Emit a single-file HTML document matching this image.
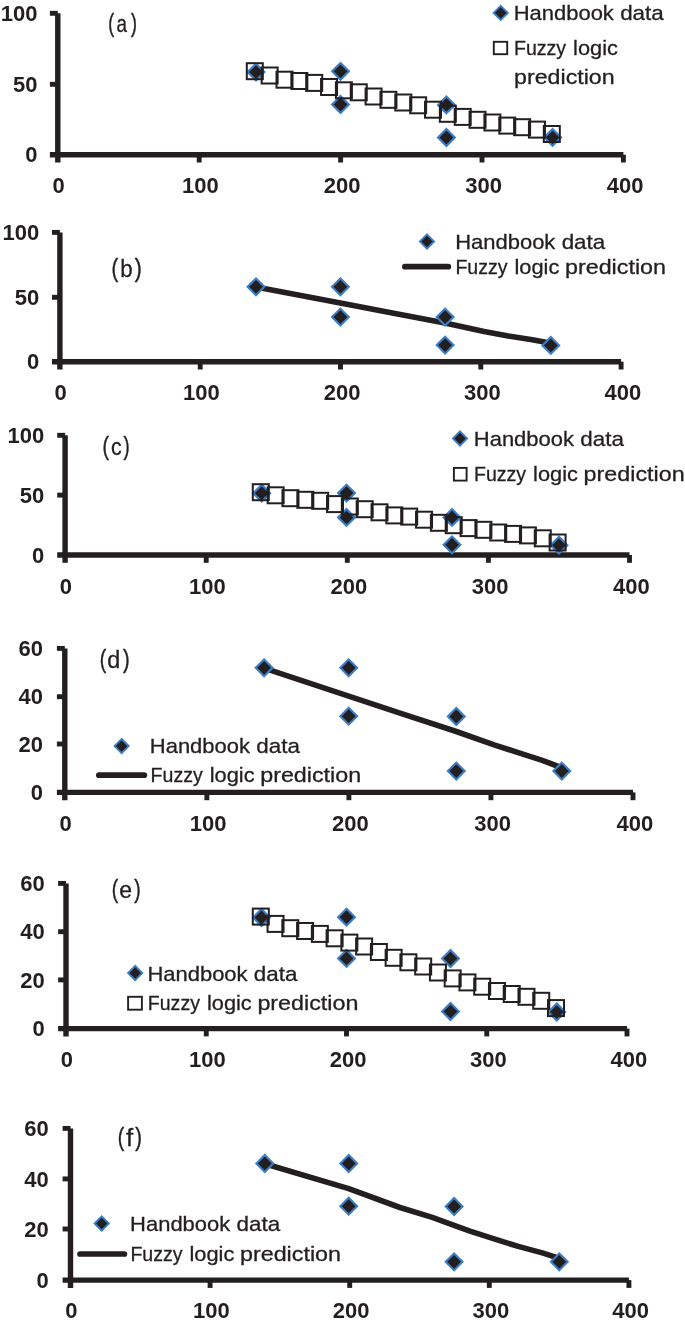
<!DOCTYPE html>
<html lang="en">
<head>
<meta charset="utf-8">
<title>Handbook data vs fuzzy logic prediction</title>
<style>
html,body{margin:0;padding:0;background:#fff;}
body{width:685px;height:1327px;overflow:hidden;}
svg{display:block;}
svg text{font-family:'Liberation Sans', sans-serif;fill:#231f20;}
</style>
</head>
<body>
<svg width="685" height="1327" viewBox="0 0 685 1327">
<rect width="685" height="1327" fill="#ffffff"/>
<line x1="57.80" y1="13.30" x2="57.80" y2="162.50" stroke="#231f20" stroke-width="5.4" stroke-linecap="butt"/>
<line x1="49.90" y1="154.70" x2="623.40" y2="154.70" stroke="#231f20" stroke-width="5.4" stroke-linecap="butt"/>
<line x1="49.90" y1="13.30" x2="57.80" y2="13.30" stroke="#231f20" stroke-width="4.9" stroke-linecap="butt"/>
<text x="0.65" y="21.00" font-size="21.3" font-weight="700" textLength="36.75" lengthAdjust="spacingAndGlyphs">100</text>
<line x1="49.90" y1="84.30" x2="57.80" y2="84.30" stroke="#231f20" stroke-width="4.9" stroke-linecap="butt"/>
<text x="12.90" y="92.00" font-size="21.3" font-weight="700" textLength="24.50" lengthAdjust="spacingAndGlyphs">50</text>
<text x="25.15" y="162.40" font-size="21.3" font-weight="700" textLength="12.25" lengthAdjust="spacingAndGlyphs">0</text>
<text x="52.49" y="193.00" font-size="21.3" font-weight="700" textLength="12.25" lengthAdjust="spacingAndGlyphs">0</text>
<line x1="199.20" y1="154.70" x2="199.20" y2="162.50" stroke="#231f20" stroke-width="4.9" stroke-linecap="butt"/>
<text x="182.08" y="193.00" font-size="21.3" font-weight="700" textLength="36.75" lengthAdjust="spacingAndGlyphs">100</text>
<line x1="340.60" y1="154.70" x2="340.60" y2="162.50" stroke="#231f20" stroke-width="4.9" stroke-linecap="butt"/>
<text x="323.79" y="193.00" font-size="21.3" font-weight="700" textLength="36.75" lengthAdjust="spacingAndGlyphs">200</text>
<line x1="482.00" y1="154.70" x2="482.00" y2="162.50" stroke="#231f20" stroke-width="4.9" stroke-linecap="butt"/>
<text x="465.32" y="193.00" font-size="21.3" font-weight="700" textLength="36.75" lengthAdjust="spacingAndGlyphs">300</text>
<line x1="623.40" y1="154.70" x2="623.40" y2="162.50" stroke="#231f20" stroke-width="4.9" stroke-linecap="butt"/>
<text x="606.81" y="193.00" font-size="21.3" font-weight="700" textLength="36.75" lengthAdjust="spacingAndGlyphs">400</text>
<text x="108.15" y="32.02" font-size="25.0" stroke="#231f20" stroke-width="0.45" textLength="5.90" lengthAdjust="spacingAndGlyphs">(</text>
<text x="116.50" y="31.50" font-size="23.2" stroke="#231f20" stroke-width="0.3" textLength="10.50" lengthAdjust="spacingAndGlyphs">a</text>
<text x="131.05" y="32.02" font-size="25.0" stroke="#231f20" stroke-width="0.45" textLength="5.90" lengthAdjust="spacingAndGlyphs">)</text>
<polygon points="256.00,63.70 264.40,72.10 256.00,80.50 247.60,72.10" fill="#231f20" stroke="#3b7dc6" stroke-width="2.1" stroke-linejoin="miter"/>
<polygon points="340.50,62.90 348.90,71.30 340.50,79.70 332.10,71.30" fill="#231f20" stroke="#3b7dc6" stroke-width="2.1" stroke-linejoin="miter"/>
<polygon points="340.50,96.10 348.90,104.50 340.50,112.90 332.10,104.50" fill="#231f20" stroke="#3b7dc6" stroke-width="2.1" stroke-linejoin="miter"/>
<polygon points="446.40,96.50 454.80,104.90 446.40,113.30 438.00,104.90" fill="#231f20" stroke="#3b7dc6" stroke-width="2.1" stroke-linejoin="miter"/>
<polygon points="446.40,129.10 454.80,137.50 446.40,145.90 438.00,137.50" fill="#231f20" stroke="#3b7dc6" stroke-width="2.1" stroke-linejoin="miter"/>
<polygon points="552.60,129.00 561.00,137.40 552.60,145.80 544.20,137.40" fill="#231f20" stroke="#3b7dc6" stroke-width="2.1" stroke-linejoin="miter"/>
<rect x="246.80" y="63.20" width="16.00" height="16.00" fill="none" stroke="#231f20" stroke-width="2.0"/>
<rect x="261.65" y="67.50" width="16.00" height="16.00" fill="none" stroke="#231f20" stroke-width="2.0"/>
<rect x="276.50" y="71.70" width="16.00" height="16.00" fill="none" stroke="#231f20" stroke-width="2.0"/>
<rect x="291.35" y="73.00" width="16.00" height="16.00" fill="none" stroke="#231f20" stroke-width="2.0"/>
<rect x="306.20" y="74.90" width="16.00" height="16.00" fill="none" stroke="#231f20" stroke-width="2.0"/>
<rect x="321.05" y="79.00" width="16.00" height="16.00" fill="none" stroke="#231f20" stroke-width="2.0"/>
<rect x="335.90" y="82.30" width="16.00" height="16.00" fill="none" stroke="#231f20" stroke-width="2.0"/>
<rect x="350.75" y="84.30" width="16.00" height="16.00" fill="none" stroke="#231f20" stroke-width="2.0"/>
<rect x="365.60" y="88.50" width="16.00" height="16.00" fill="none" stroke="#231f20" stroke-width="2.0"/>
<rect x="380.45" y="91.80" width="16.00" height="16.00" fill="none" stroke="#231f20" stroke-width="2.0"/>
<rect x="395.30" y="94.50" width="16.00" height="16.00" fill="none" stroke="#231f20" stroke-width="2.0"/>
<rect x="410.15" y="97.30" width="16.00" height="16.00" fill="none" stroke="#231f20" stroke-width="2.0"/>
<rect x="425.00" y="101.70" width="16.00" height="16.00" fill="none" stroke="#231f20" stroke-width="2.0"/>
<rect x="439.85" y="105.80" width="16.00" height="16.00" fill="none" stroke="#231f20" stroke-width="2.0"/>
<rect x="454.70" y="108.90" width="16.00" height="16.00" fill="none" stroke="#231f20" stroke-width="2.0"/>
<rect x="469.55" y="111.80" width="16.00" height="16.00" fill="none" stroke="#231f20" stroke-width="2.0"/>
<rect x="484.40" y="114.50" width="16.00" height="16.00" fill="none" stroke="#231f20" stroke-width="2.0"/>
<rect x="499.25" y="117.60" width="16.00" height="16.00" fill="none" stroke="#231f20" stroke-width="2.0"/>
<rect x="514.10" y="119.20" width="16.00" height="16.00" fill="none" stroke="#231f20" stroke-width="2.0"/>
<rect x="528.95" y="121.60" width="16.00" height="16.00" fill="none" stroke="#231f20" stroke-width="2.0"/>
<rect x="543.80" y="126.00" width="16.00" height="16.00" fill="none" stroke="#231f20" stroke-width="2.0"/>
<polygon points="500.70,5.80 507.80,12.90 500.70,20.00 493.60,12.90" fill="#231f20" stroke="#3b7dc6" stroke-width="1.9" stroke-linejoin="miter"/>
<text font-size="20.3" stroke="#231f20" stroke-width="0.3">
<tspan x="513.70" y="19.60" textLength="100.17" lengthAdjust="spacingAndGlyphs">Handbook</tspan>
<tspan x="620.16" y="19.60" textLength="43.64" lengthAdjust="spacingAndGlyphs">data</tspan>
</text>
<rect x="493.80" y="41.80" width="13.40" height="12.40" fill="none" stroke="#231f20" stroke-width="1.9"/>
<text font-size="20.3" stroke="#231f20" stroke-width="0.3">
<tspan x="514.00" y="55.00" textLength="52.14" lengthAdjust="spacingAndGlyphs">Fuzzy</tspan>
<tspan x="573.13" y="55.00" textLength="44.84" lengthAdjust="spacingAndGlyphs">logic</tspan>
<tspan x="514.10" y="83.90" textLength="100.60" lengthAdjust="spacingAndGlyphs">prediction</tspan>
</text>
<line x1="59.90" y1="232.40" x2="59.90" y2="369.50" stroke="#231f20" stroke-width="5.4" stroke-linecap="butt"/>
<line x1="52.00" y1="361.70" x2="621.10" y2="361.70" stroke="#231f20" stroke-width="5.4" stroke-linecap="butt"/>
<line x1="52.00" y1="232.40" x2="59.90" y2="232.40" stroke="#231f20" stroke-width="4.9" stroke-linecap="butt"/>
<text x="2.45" y="240.10" font-size="21.3" font-weight="700" textLength="36.75" lengthAdjust="spacingAndGlyphs">100</text>
<line x1="52.00" y1="297.30" x2="59.90" y2="297.30" stroke="#231f20" stroke-width="4.9" stroke-linecap="butt"/>
<text x="14.70" y="305.00" font-size="21.3" font-weight="700" textLength="24.50" lengthAdjust="spacingAndGlyphs">50</text>
<text x="26.95" y="369.40" font-size="21.3" font-weight="700" textLength="12.25" lengthAdjust="spacingAndGlyphs">0</text>
<text x="54.59" y="399.90" font-size="21.3" font-weight="700" textLength="12.25" lengthAdjust="spacingAndGlyphs">0</text>
<line x1="200.20" y1="361.70" x2="200.20" y2="369.50" stroke="#231f20" stroke-width="4.9" stroke-linecap="butt"/>
<text x="183.08" y="399.90" font-size="21.3" font-weight="700" textLength="36.75" lengthAdjust="spacingAndGlyphs">100</text>
<line x1="340.50" y1="361.70" x2="340.50" y2="369.50" stroke="#231f20" stroke-width="4.9" stroke-linecap="butt"/>
<text x="323.69" y="399.90" font-size="21.3" font-weight="700" textLength="36.75" lengthAdjust="spacingAndGlyphs">200</text>
<line x1="480.80" y1="361.70" x2="480.80" y2="369.50" stroke="#231f20" stroke-width="4.9" stroke-linecap="butt"/>
<text x="464.12" y="399.90" font-size="21.3" font-weight="700" textLength="36.75" lengthAdjust="spacingAndGlyphs">300</text>
<line x1="621.10" y1="361.70" x2="621.10" y2="369.50" stroke="#231f20" stroke-width="4.9" stroke-linecap="butt"/>
<text x="604.51" y="399.90" font-size="21.3" font-weight="700" textLength="36.75" lengthAdjust="spacingAndGlyphs">400</text>
<text x="111.61" y="277.22" font-size="25.0" stroke="#231f20" stroke-width="0.45" textLength="6.66" lengthAdjust="spacingAndGlyphs">(</text>
<text x="120.27" y="277.10" font-size="24.2" stroke="#231f20" stroke-width="0.3" textLength="12.37" lengthAdjust="spacingAndGlyphs">b</text>
<text x="134.73" y="277.22" font-size="25.0" stroke="#231f20" stroke-width="0.45" textLength="7.03" lengthAdjust="spacingAndGlyphs">)</text>
<polyline points="256.00,287.10 340.40,303.00 395.00,313.60 445.00,322.90 484.10,331.60 508.20,336.00 532.30,339.80 551.00,343.30" fill="none" stroke="#231f20" stroke-width="5.6" stroke-linejoin="round" stroke-linecap="round"/>
<polygon points="256.00,278.40 264.40,286.80 256.00,295.20 247.60,286.80" fill="#231f20" stroke="#3b7dc6" stroke-width="2.1" stroke-linejoin="miter"/>
<polygon points="340.40,278.40 348.80,286.80 340.40,295.20 332.00,286.80" fill="#231f20" stroke="#3b7dc6" stroke-width="2.1" stroke-linejoin="miter"/>
<polygon points="340.40,308.70 348.80,317.10 340.40,325.50 332.00,317.10" fill="#231f20" stroke="#3b7dc6" stroke-width="2.1" stroke-linejoin="miter"/>
<polygon points="445.10,308.70 453.50,317.10 445.10,325.50 436.70,317.10" fill="#231f20" stroke="#3b7dc6" stroke-width="2.1" stroke-linejoin="miter"/>
<polygon points="445.10,336.70 453.50,345.10 445.10,353.50 436.70,345.10" fill="#231f20" stroke="#3b7dc6" stroke-width="2.1" stroke-linejoin="miter"/>
<polygon points="550.80,337.00 559.20,345.40 550.80,353.80 542.40,345.40" fill="#231f20" stroke="#3b7dc6" stroke-width="2.1" stroke-linejoin="miter"/>
<polygon points="427.00,234.40 434.10,241.50 427.00,248.60 419.90,241.50" fill="#231f20" stroke="#3b7dc6" stroke-width="1.9" stroke-linejoin="miter"/>
<text font-size="20.3" stroke="#231f20" stroke-width="0.3">
<tspan x="455.20" y="248.80" textLength="100.17" lengthAdjust="spacingAndGlyphs">Handbook</tspan>
<tspan x="561.66" y="248.80" textLength="43.64" lengthAdjust="spacingAndGlyphs">data</tspan>
</text>
<line x1="404.90" y1="266.70" x2="448.30" y2="266.70" stroke="#231f20" stroke-width="5.7" stroke-linecap="round"/>
<text font-size="20.3" stroke="#231f20" stroke-width="0.3">
<tspan x="455.40" y="273.90" textLength="52.14" lengthAdjust="spacingAndGlyphs">Fuzzy</tspan>
<tspan x="514.53" y="273.90" textLength="44.84" lengthAdjust="spacingAndGlyphs">logic</tspan>
<tspan x="565.00" y="273.90" textLength="101.01" lengthAdjust="spacingAndGlyphs">prediction</tspan>
</text>
<line x1="65.10" y1="435.30" x2="65.10" y2="562.80" stroke="#231f20" stroke-width="5.4" stroke-linecap="butt"/>
<line x1="57.20" y1="555.00" x2="629.50" y2="555.00" stroke="#231f20" stroke-width="5.4" stroke-linecap="butt"/>
<line x1="57.20" y1="435.30" x2="65.10" y2="435.30" stroke="#231f20" stroke-width="4.9" stroke-linecap="butt"/>
<text x="7.45" y="443.00" font-size="21.3" font-weight="700" textLength="36.75" lengthAdjust="spacingAndGlyphs">100</text>
<line x1="57.20" y1="495.10" x2="65.10" y2="495.10" stroke="#231f20" stroke-width="4.9" stroke-linecap="butt"/>
<text x="19.70" y="502.80" font-size="21.3" font-weight="700" textLength="24.50" lengthAdjust="spacingAndGlyphs">50</text>
<text x="31.95" y="562.70" font-size="21.3" font-weight="700" textLength="12.25" lengthAdjust="spacingAndGlyphs">0</text>
<text x="59.79" y="593.80" font-size="21.3" font-weight="700" textLength="12.25" lengthAdjust="spacingAndGlyphs">0</text>
<line x1="206.20" y1="555.00" x2="206.20" y2="562.80" stroke="#231f20" stroke-width="4.9" stroke-linecap="butt"/>
<text x="189.08" y="593.80" font-size="21.3" font-weight="700" textLength="36.75" lengthAdjust="spacingAndGlyphs">100</text>
<line x1="347.30" y1="555.00" x2="347.30" y2="562.80" stroke="#231f20" stroke-width="4.9" stroke-linecap="butt"/>
<text x="330.49" y="593.80" font-size="21.3" font-weight="700" textLength="36.75" lengthAdjust="spacingAndGlyphs">200</text>
<line x1="488.40" y1="555.00" x2="488.40" y2="562.80" stroke="#231f20" stroke-width="4.9" stroke-linecap="butt"/>
<text x="471.72" y="593.80" font-size="21.3" font-weight="700" textLength="36.75" lengthAdjust="spacingAndGlyphs">300</text>
<line x1="629.50" y1="555.00" x2="629.50" y2="562.80" stroke="#231f20" stroke-width="4.9" stroke-linecap="butt"/>
<text x="612.91" y="593.80" font-size="21.3" font-weight="700" textLength="36.75" lengthAdjust="spacingAndGlyphs">400</text>
<text x="102.46" y="455.47" font-size="25.0" stroke="#231f20" stroke-width="0.45" textLength="6.41" lengthAdjust="spacingAndGlyphs">(</text>
<text x="110.99" y="455.10" font-size="23.2" stroke="#231f20" stroke-width="0.3" textLength="10.67" lengthAdjust="spacingAndGlyphs">c</text>
<text x="123.44" y="455.47" font-size="25.0" stroke="#231f20" stroke-width="0.45" textLength="6.15" lengthAdjust="spacingAndGlyphs">)</text>
<polygon points="261.70,484.80 270.10,493.20 261.70,501.60 253.30,493.20" fill="#231f20" stroke="#3b7dc6" stroke-width="2.1" stroke-linejoin="miter"/>
<polygon points="346.50,484.70 354.90,493.10 346.50,501.50 338.10,493.10" fill="#231f20" stroke="#3b7dc6" stroke-width="2.1" stroke-linejoin="miter"/>
<polygon points="346.50,509.00 354.90,517.40 346.50,525.80 338.10,517.40" fill="#231f20" stroke="#3b7dc6" stroke-width="2.1" stroke-linejoin="miter"/>
<polygon points="452.00,509.00 460.40,517.40 452.00,525.80 443.60,517.40" fill="#231f20" stroke="#3b7dc6" stroke-width="2.1" stroke-linejoin="miter"/>
<polygon points="452.00,536.40 460.40,544.80 452.00,553.20 443.60,544.80" fill="#231f20" stroke="#3b7dc6" stroke-width="2.1" stroke-linejoin="miter"/>
<polygon points="559.00,536.80 567.40,545.20 559.00,553.60 550.60,545.20" fill="#231f20" stroke="#3b7dc6" stroke-width="2.1" stroke-linejoin="miter"/>
<rect x="252.80" y="484.20" width="16.00" height="16.00" fill="none" stroke="#231f20" stroke-width="2.0"/>
<rect x="267.64" y="487.30" width="16.00" height="16.00" fill="none" stroke="#231f20" stroke-width="2.0"/>
<rect x="282.48" y="490.20" width="16.00" height="16.00" fill="none" stroke="#231f20" stroke-width="2.0"/>
<rect x="297.32" y="491.80" width="16.00" height="16.00" fill="none" stroke="#231f20" stroke-width="2.0"/>
<rect x="312.16" y="492.80" width="16.00" height="16.00" fill="none" stroke="#231f20" stroke-width="2.0"/>
<rect x="327.00" y="496.10" width="16.00" height="16.00" fill="none" stroke="#231f20" stroke-width="2.0"/>
<rect x="341.84" y="498.50" width="16.00" height="16.00" fill="none" stroke="#231f20" stroke-width="2.0"/>
<rect x="356.68" y="501.20" width="16.00" height="16.00" fill="none" stroke="#231f20" stroke-width="2.0"/>
<rect x="371.52" y="504.30" width="16.00" height="16.00" fill="none" stroke="#231f20" stroke-width="2.0"/>
<rect x="386.36" y="507.40" width="16.00" height="16.00" fill="none" stroke="#231f20" stroke-width="2.0"/>
<rect x="401.20" y="508.60" width="16.00" height="16.00" fill="none" stroke="#231f20" stroke-width="2.0"/>
<rect x="416.04" y="511.70" width="16.00" height="16.00" fill="none" stroke="#231f20" stroke-width="2.0"/>
<rect x="430.88" y="514.80" width="16.00" height="16.00" fill="none" stroke="#231f20" stroke-width="2.0"/>
<rect x="445.72" y="517.20" width="16.00" height="16.00" fill="none" stroke="#231f20" stroke-width="2.0"/>
<rect x="460.56" y="520.10" width="16.00" height="16.00" fill="none" stroke="#231f20" stroke-width="2.0"/>
<rect x="475.40" y="521.80" width="16.00" height="16.00" fill="none" stroke="#231f20" stroke-width="2.0"/>
<rect x="490.24" y="524.50" width="16.00" height="16.00" fill="none" stroke="#231f20" stroke-width="2.0"/>
<rect x="505.08" y="525.90" width="16.00" height="16.00" fill="none" stroke="#231f20" stroke-width="2.0"/>
<rect x="519.92" y="527.40" width="16.00" height="16.00" fill="none" stroke="#231f20" stroke-width="2.0"/>
<rect x="534.76" y="530.30" width="16.00" height="16.00" fill="none" stroke="#231f20" stroke-width="2.0"/>
<rect x="549.60" y="534.50" width="16.00" height="16.00" fill="none" stroke="#231f20" stroke-width="2.0"/>
<polygon points="460.00,431.40 467.10,438.50 460.00,445.60 452.90,438.50" fill="#231f20" stroke="#3b7dc6" stroke-width="1.9" stroke-linejoin="miter"/>
<text font-size="20.3" stroke="#231f20" stroke-width="0.3">
<tspan x="473.80" y="446.00" textLength="100.17" lengthAdjust="spacingAndGlyphs">Handbook</tspan>
<tspan x="580.26" y="446.00" textLength="43.64" lengthAdjust="spacingAndGlyphs">data</tspan>
</text>
<rect x="453.90" y="467.90" width="12.70" height="12.70" fill="none" stroke="#231f20" stroke-width="1.9"/>
<text font-size="20.3" stroke="#231f20" stroke-width="0.3">
<tspan x="474.00" y="480.70" textLength="52.14" lengthAdjust="spacingAndGlyphs">Fuzzy</tspan>
<tspan x="533.13" y="480.70" textLength="44.84" lengthAdjust="spacingAndGlyphs">logic</tspan>
<tspan x="583.60" y="480.70" textLength="101.01" lengthAdjust="spacingAndGlyphs">prediction</tspan>
</text>
<line x1="64.80" y1="648.40" x2="64.80" y2="800.20" stroke="#231f20" stroke-width="5.4" stroke-linecap="butt"/>
<line x1="56.90" y1="792.40" x2="633.00" y2="792.40" stroke="#231f20" stroke-width="5.4" stroke-linecap="butt"/>
<line x1="56.90" y1="648.40" x2="64.80" y2="648.40" stroke="#231f20" stroke-width="4.9" stroke-linecap="butt"/>
<text x="18.60" y="656.10" font-size="21.3" font-weight="700" textLength="24.50" lengthAdjust="spacingAndGlyphs">60</text>
<line x1="56.90" y1="696.70" x2="64.80" y2="696.70" stroke="#231f20" stroke-width="4.9" stroke-linecap="butt"/>
<text x="18.60" y="704.40" font-size="21.3" font-weight="700" textLength="24.50" lengthAdjust="spacingAndGlyphs">40</text>
<line x1="56.90" y1="744.00" x2="64.80" y2="744.00" stroke="#231f20" stroke-width="4.9" stroke-linecap="butt"/>
<text x="18.60" y="751.70" font-size="21.3" font-weight="700" textLength="24.50" lengthAdjust="spacingAndGlyphs">20</text>
<text x="30.85" y="800.10" font-size="21.3" font-weight="700" textLength="12.25" lengthAdjust="spacingAndGlyphs">0</text>
<text x="59.49" y="831.00" font-size="21.3" font-weight="700" textLength="12.25" lengthAdjust="spacingAndGlyphs">0</text>
<line x1="206.85" y1="792.40" x2="206.85" y2="800.20" stroke="#231f20" stroke-width="4.9" stroke-linecap="butt"/>
<text x="189.73" y="831.00" font-size="21.3" font-weight="700" textLength="36.75" lengthAdjust="spacingAndGlyphs">100</text>
<line x1="348.90" y1="792.40" x2="348.90" y2="800.20" stroke="#231f20" stroke-width="4.9" stroke-linecap="butt"/>
<text x="332.09" y="831.00" font-size="21.3" font-weight="700" textLength="36.75" lengthAdjust="spacingAndGlyphs">200</text>
<line x1="490.95" y1="792.40" x2="490.95" y2="800.20" stroke="#231f20" stroke-width="4.9" stroke-linecap="butt"/>
<text x="474.27" y="831.00" font-size="21.3" font-weight="700" textLength="36.75" lengthAdjust="spacingAndGlyphs">300</text>
<line x1="633.00" y1="792.40" x2="633.00" y2="800.20" stroke="#231f20" stroke-width="4.9" stroke-linecap="butt"/>
<text x="616.41" y="831.00" font-size="21.3" font-weight="700" textLength="36.75" lengthAdjust="spacingAndGlyphs">400</text>
<text x="99.66" y="667.57" font-size="25.0" stroke="#231f20" stroke-width="0.45" textLength="6.41" lengthAdjust="spacingAndGlyphs">(</text>
<text x="107.32" y="667.60" font-size="24.2" stroke="#231f20" stroke-width="0.3" textLength="12.99" lengthAdjust="spacingAndGlyphs">d</text>
<text x="123.03" y="667.57" font-size="25.0" stroke="#231f20" stroke-width="0.45" textLength="6.66" lengthAdjust="spacingAndGlyphs">)</text>
<polyline points="264.10,668.10 348.70,696.10 400.00,713.10 456.30,731.50 494.10,744.80 518.20,752.60 542.30,760.40 562.00,767.80" fill="none" stroke="#231f20" stroke-width="5.6" stroke-linejoin="round" stroke-linecap="round"/>
<polygon points="264.10,659.40 272.50,667.80 264.10,676.20 255.70,667.80" fill="#231f20" stroke="#3b7dc6" stroke-width="2.1" stroke-linejoin="miter"/>
<polygon points="348.70,659.40 357.10,667.80 348.70,676.20 340.30,667.80" fill="#231f20" stroke="#3b7dc6" stroke-width="2.1" stroke-linejoin="miter"/>
<polygon points="348.70,707.80 357.10,716.20 348.70,724.60 340.30,716.20" fill="#231f20" stroke="#3b7dc6" stroke-width="2.1" stroke-linejoin="miter"/>
<polygon points="456.30,708.10 464.70,716.50 456.30,724.90 447.90,716.50" fill="#231f20" stroke="#3b7dc6" stroke-width="2.1" stroke-linejoin="miter"/>
<polygon points="456.30,762.70 464.70,771.10 456.30,779.50 447.90,771.10" fill="#231f20" stroke="#3b7dc6" stroke-width="2.1" stroke-linejoin="miter"/>
<polygon points="561.80,762.70 570.20,771.10 561.80,779.50 553.40,771.10" fill="#231f20" stroke="#3b7dc6" stroke-width="2.1" stroke-linejoin="miter"/>
<polygon points="121.60,739.00 128.70,746.10 121.60,753.20 114.50,746.10" fill="#231f20" stroke="#3b7dc6" stroke-width="1.9" stroke-linejoin="miter"/>
<text font-size="20.3" stroke="#231f20" stroke-width="0.3">
<tspan x="149.80" y="753.20" textLength="100.17" lengthAdjust="spacingAndGlyphs">Handbook</tspan>
<tspan x="256.26" y="753.20" textLength="43.64" lengthAdjust="spacingAndGlyphs">data</tspan>
</text>
<line x1="98.90" y1="775.20" x2="144.30" y2="775.20" stroke="#231f20" stroke-width="5.7" stroke-linecap="round"/>
<text font-size="20.3" stroke="#231f20" stroke-width="0.3">
<tspan x="150.60" y="782.20" textLength="52.14" lengthAdjust="spacingAndGlyphs">Fuzzy</tspan>
<tspan x="209.73" y="782.20" textLength="44.84" lengthAdjust="spacingAndGlyphs">logic</tspan>
<tspan x="260.20" y="782.20" textLength="101.01" lengthAdjust="spacingAndGlyphs">prediction</tspan>
</text>
<line x1="66.00" y1="883.40" x2="66.00" y2="1036.40" stroke="#231f20" stroke-width="5.4" stroke-linecap="butt"/>
<line x1="58.10" y1="1028.60" x2="627.00" y2="1028.60" stroke="#231f20" stroke-width="5.4" stroke-linecap="butt"/>
<line x1="58.10" y1="883.40" x2="66.00" y2="883.40" stroke="#231f20" stroke-width="4.9" stroke-linecap="butt"/>
<text x="20.20" y="891.10" font-size="21.3" font-weight="700" textLength="24.50" lengthAdjust="spacingAndGlyphs">60</text>
<line x1="58.10" y1="931.70" x2="66.00" y2="931.70" stroke="#231f20" stroke-width="4.9" stroke-linecap="butt"/>
<text x="20.20" y="939.40" font-size="21.3" font-weight="700" textLength="24.50" lengthAdjust="spacingAndGlyphs">40</text>
<line x1="58.10" y1="979.90" x2="66.00" y2="979.90" stroke="#231f20" stroke-width="4.9" stroke-linecap="butt"/>
<text x="20.20" y="987.60" font-size="21.3" font-weight="700" textLength="24.50" lengthAdjust="spacingAndGlyphs">20</text>
<text x="32.45" y="1036.30" font-size="21.3" font-weight="700" textLength="12.25" lengthAdjust="spacingAndGlyphs">0</text>
<text x="60.69" y="1067.40" font-size="21.3" font-weight="700" textLength="12.25" lengthAdjust="spacingAndGlyphs">0</text>
<line x1="206.25" y1="1028.60" x2="206.25" y2="1036.40" stroke="#231f20" stroke-width="4.9" stroke-linecap="butt"/>
<text x="189.13" y="1067.40" font-size="21.3" font-weight="700" textLength="36.75" lengthAdjust="spacingAndGlyphs">100</text>
<line x1="346.50" y1="1028.60" x2="346.50" y2="1036.40" stroke="#231f20" stroke-width="4.9" stroke-linecap="butt"/>
<text x="329.69" y="1067.40" font-size="21.3" font-weight="700" textLength="36.75" lengthAdjust="spacingAndGlyphs">200</text>
<line x1="486.75" y1="1028.60" x2="486.75" y2="1036.40" stroke="#231f20" stroke-width="4.9" stroke-linecap="butt"/>
<text x="470.07" y="1067.40" font-size="21.3" font-weight="700" textLength="36.75" lengthAdjust="spacingAndGlyphs">300</text>
<line x1="627.00" y1="1028.60" x2="627.00" y2="1036.40" stroke="#231f20" stroke-width="4.9" stroke-linecap="butt"/>
<text x="610.41" y="1067.40" font-size="21.3" font-weight="700" textLength="36.75" lengthAdjust="spacingAndGlyphs">400</text>
<text x="111.66" y="898.47" font-size="25.0" stroke="#231f20" stroke-width="0.45" textLength="6.41" lengthAdjust="spacingAndGlyphs">(</text>
<text x="119.32" y="898.10" font-size="23.2" stroke="#231f20" stroke-width="0.3" textLength="12.80" lengthAdjust="spacingAndGlyphs">e</text>
<text x="134.14" y="898.47" font-size="25.0" stroke="#231f20" stroke-width="0.45" textLength="6.41" lengthAdjust="spacingAndGlyphs">)</text>
<polygon points="261.50,909.10 269.90,917.50 261.50,925.90 253.10,917.50" fill="#231f20" stroke="#3b7dc6" stroke-width="2.1" stroke-linejoin="miter"/>
<polygon points="346.50,908.80 354.90,917.20 346.50,925.60 338.10,917.20" fill="#231f20" stroke="#3b7dc6" stroke-width="2.1" stroke-linejoin="miter"/>
<polygon points="346.50,950.00 354.90,958.40 346.50,966.80 338.10,958.40" fill="#231f20" stroke="#3b7dc6" stroke-width="2.1" stroke-linejoin="miter"/>
<polygon points="450.50,950.10 458.90,958.50 450.50,966.90 442.10,958.50" fill="#231f20" stroke="#3b7dc6" stroke-width="2.1" stroke-linejoin="miter"/>
<polygon points="450.50,1003.10 458.90,1011.50 450.50,1019.90 442.10,1011.50" fill="#231f20" stroke="#3b7dc6" stroke-width="2.1" stroke-linejoin="miter"/>
<polygon points="556.80,1003.60 565.20,1012.00 556.80,1020.40 548.40,1012.00" fill="#231f20" stroke="#3b7dc6" stroke-width="2.1" stroke-linejoin="miter"/>
<rect x="252.80" y="908.60" width="16.00" height="16.00" fill="none" stroke="#231f20" stroke-width="2.0"/>
<rect x="267.56" y="915.90" width="16.00" height="16.00" fill="none" stroke="#231f20" stroke-width="2.0"/>
<rect x="282.32" y="920.20" width="16.00" height="16.00" fill="none" stroke="#231f20" stroke-width="2.0"/>
<rect x="297.08" y="923.00" width="16.00" height="16.00" fill="none" stroke="#231f20" stroke-width="2.0"/>
<rect x="311.84" y="925.90" width="16.00" height="16.00" fill="none" stroke="#231f20" stroke-width="2.0"/>
<rect x="326.60" y="930.30" width="16.00" height="16.00" fill="none" stroke="#231f20" stroke-width="2.0"/>
<rect x="341.36" y="934.60" width="16.00" height="16.00" fill="none" stroke="#231f20" stroke-width="2.0"/>
<rect x="356.12" y="938.50" width="16.00" height="16.00" fill="none" stroke="#231f20" stroke-width="2.0"/>
<rect x="370.88" y="944.00" width="16.00" height="16.00" fill="none" stroke="#231f20" stroke-width="2.0"/>
<rect x="385.64" y="949.80" width="16.00" height="16.00" fill="none" stroke="#231f20" stroke-width="2.0"/>
<rect x="400.40" y="954.30" width="16.00" height="16.00" fill="none" stroke="#231f20" stroke-width="2.0"/>
<rect x="415.16" y="958.50" width="16.00" height="16.00" fill="none" stroke="#231f20" stroke-width="2.0"/>
<rect x="429.92" y="964.50" width="16.00" height="16.00" fill="none" stroke="#231f20" stroke-width="2.0"/>
<rect x="444.68" y="970.40" width="16.00" height="16.00" fill="none" stroke="#231f20" stroke-width="2.0"/>
<rect x="459.44" y="974.40" width="16.00" height="16.00" fill="none" stroke="#231f20" stroke-width="2.0"/>
<rect x="474.20" y="978.70" width="16.00" height="16.00" fill="none" stroke="#231f20" stroke-width="2.0"/>
<rect x="488.96" y="983.00" width="16.00" height="16.00" fill="none" stroke="#231f20" stroke-width="2.0"/>
<rect x="503.72" y="986.00" width="16.00" height="16.00" fill="none" stroke="#231f20" stroke-width="2.0"/>
<rect x="518.48" y="988.80" width="16.00" height="16.00" fill="none" stroke="#231f20" stroke-width="2.0"/>
<rect x="533.24" y="992.80" width="16.00" height="16.00" fill="none" stroke="#231f20" stroke-width="2.0"/>
<rect x="548.00" y="1000.10" width="16.00" height="16.00" fill="none" stroke="#231f20" stroke-width="2.0"/>
<polygon points="135.20,965.90 142.30,973.00 135.20,980.10 128.10,973.00" fill="#231f20" stroke="#3b7dc6" stroke-width="1.9" stroke-linejoin="miter"/>
<text font-size="20.3" stroke="#231f20" stroke-width="0.3">
<tspan x="147.40" y="980.80" textLength="100.17" lengthAdjust="spacingAndGlyphs">Handbook</tspan>
<tspan x="253.86" y="980.80" textLength="43.64" lengthAdjust="spacingAndGlyphs">data</tspan>
</text>
<rect x="128.10" y="996.80" width="13.80" height="12.90" fill="none" stroke="#231f20" stroke-width="1.9"/>
<text font-size="20.3" stroke="#231f20" stroke-width="0.3">
<tspan x="147.80" y="1010.10" textLength="52.14" lengthAdjust="spacingAndGlyphs">Fuzzy</tspan>
<tspan x="206.93" y="1010.10" textLength="44.84" lengthAdjust="spacingAndGlyphs">logic</tspan>
<tspan x="257.40" y="1010.10" textLength="101.01" lengthAdjust="spacingAndGlyphs">prediction</tspan>
</text>
<line x1="70.50" y1="1128.40" x2="70.50" y2="1287.90" stroke="#231f20" stroke-width="5.4" stroke-linecap="butt"/>
<line x1="62.60" y1="1280.10" x2="628.90" y2="1280.10" stroke="#231f20" stroke-width="5.4" stroke-linecap="butt"/>
<line x1="62.60" y1="1128.40" x2="70.50" y2="1128.40" stroke="#231f20" stroke-width="4.9" stroke-linecap="butt"/>
<text x="24.30" y="1136.10" font-size="21.3" font-weight="700" textLength="24.50" lengthAdjust="spacingAndGlyphs">60</text>
<line x1="62.60" y1="1178.90" x2="70.50" y2="1178.90" stroke="#231f20" stroke-width="4.9" stroke-linecap="butt"/>
<text x="24.30" y="1186.60" font-size="21.3" font-weight="700" textLength="24.50" lengthAdjust="spacingAndGlyphs">40</text>
<line x1="62.60" y1="1229.00" x2="70.50" y2="1229.00" stroke="#231f20" stroke-width="4.9" stroke-linecap="butt"/>
<text x="24.30" y="1236.70" font-size="21.3" font-weight="700" textLength="24.50" lengthAdjust="spacingAndGlyphs">20</text>
<text x="36.55" y="1287.80" font-size="21.3" font-weight="700" textLength="12.25" lengthAdjust="spacingAndGlyphs">0</text>
<text x="65.19" y="1318.00" font-size="21.3" font-weight="700" textLength="12.25" lengthAdjust="spacingAndGlyphs">0</text>
<line x1="210.10" y1="1280.10" x2="210.10" y2="1287.90" stroke="#231f20" stroke-width="4.9" stroke-linecap="butt"/>
<text x="192.98" y="1318.00" font-size="21.3" font-weight="700" textLength="36.75" lengthAdjust="spacingAndGlyphs">100</text>
<line x1="349.70" y1="1280.10" x2="349.70" y2="1287.90" stroke="#231f20" stroke-width="4.9" stroke-linecap="butt"/>
<text x="332.89" y="1318.00" font-size="21.3" font-weight="700" textLength="36.75" lengthAdjust="spacingAndGlyphs">200</text>
<line x1="489.30" y1="1280.10" x2="489.30" y2="1287.90" stroke="#231f20" stroke-width="4.9" stroke-linecap="butt"/>
<text x="472.62" y="1318.00" font-size="21.3" font-weight="700" textLength="36.75" lengthAdjust="spacingAndGlyphs">300</text>
<line x1="628.90" y1="1280.10" x2="628.90" y2="1287.90" stroke="#231f20" stroke-width="4.9" stroke-linecap="butt"/>
<text x="612.31" y="1318.00" font-size="21.3" font-weight="700" textLength="36.75" lengthAdjust="spacingAndGlyphs">400</text>
<text x="117.66" y="1145.57" font-size="25.0" stroke="#231f20" stroke-width="0.45" textLength="6.41" lengthAdjust="spacingAndGlyphs">(</text>
<text x="125.92" y="1145.50" font-size="24.2" stroke="#231f20" stroke-width="0.3" textLength="7.26" lengthAdjust="spacingAndGlyphs">f</text>
<text x="135.23" y="1145.57" font-size="25.0" stroke="#231f20" stroke-width="0.45" textLength="6.66" lengthAdjust="spacingAndGlyphs">)</text>
<polyline points="264.80,1163.80 348.70,1188.60 400.00,1207.50 432.30,1217.40 454.10,1225.40 470.00,1231.20 494.10,1238.90 518.20,1246.40 542.30,1252.90 559.40,1258.30" fill="none" stroke="#231f20" stroke-width="5.6" stroke-linejoin="round" stroke-linecap="round"/>
<polygon points="264.80,1155.10 273.20,1163.50 264.80,1171.90 256.40,1163.50" fill="#231f20" stroke="#3b7dc6" stroke-width="2.1" stroke-linejoin="miter"/>
<polygon points="348.70,1155.10 357.10,1163.50 348.70,1171.90 340.30,1163.50" fill="#231f20" stroke="#3b7dc6" stroke-width="2.1" stroke-linejoin="miter"/>
<polygon points="348.70,1197.80 357.10,1206.20 348.70,1214.60 340.30,1206.20" fill="#231f20" stroke="#3b7dc6" stroke-width="2.1" stroke-linejoin="miter"/>
<polygon points="454.10,1198.10 462.50,1206.50 454.10,1214.90 445.70,1206.50" fill="#231f20" stroke="#3b7dc6" stroke-width="2.1" stroke-linejoin="miter"/>
<polygon points="454.10,1253.40 462.50,1261.80 454.10,1270.20 445.70,1261.80" fill="#231f20" stroke="#3b7dc6" stroke-width="2.1" stroke-linejoin="miter"/>
<polygon points="559.30,1253.40 567.70,1261.80 559.30,1270.20 550.90,1261.80" fill="#231f20" stroke="#3b7dc6" stroke-width="2.1" stroke-linejoin="miter"/>
<polygon points="101.70,1216.40 108.80,1223.50 101.70,1230.60 94.60,1223.50" fill="#231f20" stroke="#3b7dc6" stroke-width="1.9" stroke-linejoin="miter"/>
<text font-size="20.3" stroke="#231f20" stroke-width="0.3">
<tspan x="130.10" y="1231.30" textLength="100.17" lengthAdjust="spacingAndGlyphs">Handbook</tspan>
<tspan x="236.56" y="1231.30" textLength="43.64" lengthAdjust="spacingAndGlyphs">data</tspan>
</text>
<line x1="80.00" y1="1254.00" x2="124.40" y2="1254.00" stroke="#231f20" stroke-width="5.7" stroke-linecap="round"/>
<text font-size="20.3" stroke="#231f20" stroke-width="0.3">
<tspan x="130.40" y="1261.00" textLength="52.14" lengthAdjust="spacingAndGlyphs">Fuzzy</tspan>
<tspan x="189.53" y="1261.00" textLength="44.84" lengthAdjust="spacingAndGlyphs">logic</tspan>
<tspan x="240.00" y="1261.00" textLength="101.01" lengthAdjust="spacingAndGlyphs">prediction</tspan>
</text>
</svg>
</body>
</html>
